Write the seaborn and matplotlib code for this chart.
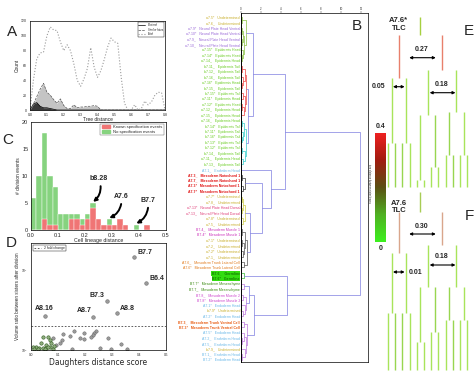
import numpy as np
import pandas as pd
import matplotlib
matplotlib.use("Agg")
import matplotlib.pyplot as plt
import seaborn as sns
from matplotlib.colors import LinearSegmentedColormap, Normalize
from matplotlib.cm import ScalarMappable
from matplotlib.patches import Patch

# ---------------- data ----------------
# Panel A: tree-distance distributions
dist = [0.00, 0.02, 0.04, 0.06, 0.08, 0.10, 0.12, 0.14, 0.16, 0.18, 0.20,
        0.22, 0.24, 0.26, 0.28, 0.30, 0.32, 0.34, 0.36, 0.38, 0.40,
        0.42, 0.44, 0.46, 0.48, 0.50, 0.52, 0.54, 0.56, 0.58, 0.60,
        0.62, 0.64, 0.66, 0.68, 0.70, 0.72, 0.74, 0.76, 0.78, 0.80]
total = [0, 40, 69, 77, 78, 100, 112, 108, 107, 92, 80,
         88, 80, 62, 40, 32, 42, 56, 84, 58, 44,
         53, 68, 85, 97, 92, 90, 45, 9, 0, 0,
         7, 0, 2, 12, 7, 11, 20, 24, 23, 0]
similar = [0, 8, 18, 28, 36, 24, 20, 14, 9, 15, 6,
           2, 2, 7, 3, 4, 4, 5, 5, 6, 5,
           0, 0, 0, 0, 0, 0, 0, 0, 0, 0,
           0, 0, 0, 0, 0, 0, 0, 0, 0, 0]
bilateral = [0, 8, 10, 5, 3, 3, 2, 1, 0, 0, 0,
             0, 0, 0, 0, 0, 0, 0, 0, 0, 0,
             0, 0, 0, 0, 0, 0, 0, 0, 0, 0,
             0, 0, 0, 0, 0, 0, 0, 0, 0, 0]

# Panel C: division events per cell-lineage-distance bin
c_left = [0.00, 0.02, 0.04, 0.06, 0.08, 0.10, 0.12, 0.14, 0.16, 0.18,
          0.20, 0.22, 0.24, 0.26, 0.28, 0.30, 0.32, 0.34, 0.36, 0.38,
          0.40, 0.42, 0.44, 0.46, 0.48]
c_total = [6, 10, 18, 10, 8, 3, 3, 3, 3, 2, 3, 5, 2, 1, 2, 1, 2, 1, 0, 1, 0, 1, 0, 0, 0]
c_known = [0, 0, 2, 1, 1, 0, 0, 2, 2, 1, 2, 4, 2, 1, 1, 1, 2, 1, 0, 0, 0, 1, 0, 0, 0]
c_arrow_names = ["b8.28", "A7.6", "B7.7"]
c_arrow_bins = [11, 14, 19]

# Panel D: daughters distance score vs volume ratio
d_gray_x = [0.161, 0.198, 0.241, 0.235, 0.229, 0.223, 0.143, 0.118, 0.115, 0.180,
            0.198, 0.285, 0.106, 0.335, 0.254, 0.152, 0.297, 0.355, 0.081, 0.093]
d_gray_y = [1.73, 1.65, 1.73, 1.62, 1.54, 1.47, 1.50, 1.57, 1.33, 1.40,
            1.37, 1.40, 1.23, 1.19, 1.07, 1.02, 1.03, 1.02, 1.40, 1.15]
d_green_x = [0.044, 0.062, 0.069, 0.038, 0.056, 0.075, 0.019, 0.031, 0.044, 0.056,
             0.069, 0.081, 0.007, 0.087, 0.025, 0.050, 0.012, 0.062]
d_green_y = [1.44, 1.47, 1.33, 1.21, 1.15, 1.21, 1.08, 1.05, 1.07, 1.05,
             1.08, 1.04, 1.10, 1.12, 1.02, 1.02, 1.02, 1.10]
d_named = ["B7.7", "B6.4", "B7.3", "A8.8", "A8.7", "A8.16"]
d_named_x = [0.383, 0.427, 0.281, 0.318, 0.231, 0.050]
d_named_y = [14.8, 6.9, 4.1, 2.9, 2.6, 2.7]

# Panel B: dendrogram leaves
leaf_ids = ["a7.5*", "a7.6_", "a7.9*", "a7.10*", "a7.9_", "a7.10_",
            "a7.15*", "a7.14*", "a7.14_", "b7.11_", "b7.12_", "b7.16_", "a7.16*", "b7.15_",
            "b7.15*", "a7.11*", "a7.12*", "a7.12_", "a7.15_", "a7.16_", "b7.14*", "b7.11*",
            "b7.16*", "b7.13*", "b7.12*", "b7.14_", "a7.11_", "b7.13_",
            "A7.1_", "A7.3_", "A7.7_", "A7.3*", "A7.7*",
            "a7.7*", "a7.8_", "a7.13*", "a7.13_", "a7.8*", "a7.5_",
            "B7.4_", "B7.4*", "a7.1*", "a7.2_", "a7.2*", "a7.1_", "A7.6_", "A7.6*",
            "B7.6_", "B7.6*", "B7.7*", "B7.7_", "B7.8_", "B7.8*", "A7.1*", "b7.9*",
            "A7.2*", "B7.3_", "B7.3*", "A7.5*", "A7.2_", "A7.5_", "b7.9_", "B7.1_", "B7.2*"]
U, NV, EH, ET = "Undetermined", "Neural Plate Head Ventral", "Epidermis Head", "Epidermis Tail"
EN, NC, ND = "Endoderm Head", "Mesoderm Notochord 1", "Neural Plate Head Dorsal"
M1, TL, GL = "Mesoderm Muscle 1", "Mesoderm Trunk Lateral Cell", "Germline"
MS, M2, TV = "Mesoderm Mesenchyme", "Mesoderm Muscle 2", "Mesoderm Trunk Ventral Cell"
leaf_fates = [U, U, NV, NV, NV, NV,
              EH, EH, EH, ET, ET, ET, EH, ET, ET, EH, EH, EH, EH, EH, ET, ET, ET, ET, ET, ET, EH, ET,
              EN, NC, NC, NC, NC,
              U, U, ND, ND, U, U,
              M1, M1, U, U, U, U, TL, TL,
              GL, GL, MS, MS, M2, M2, EN, U, EN, TV, TV, EN, EN, EN, U, EN, EN]
fate_color = {U: "#c8ae2a", NV: "#9a6ad8", EH: "#6acc22", ET: "#6acc22", EN: "#6ab8e8",
              NC: "#e01010", ND: "#e0407a", M1: "#cc33bb", TL: "#e07818", GL: "#137a00",
              MS: "#3a8a10", M2: "#cc44cc", TV: "#e85a10"}
bold_fates = [NC, TV, GL]

# merge heights of the dendrogram (height, left, right); names are coloured clusters
clusters = {
    "T1": ((0.45, (0.1, 0, 1), (0.3, (0.15, (0.05, 2, 3), (0.08, 4, 5)), (0.2, 6, (0.1, 7, 8)))), "#88c040"),
    "T2": ((0.5, (0.35, (0.1, 9, 10), (0.2, 11, (0.05, 12, 13))), (0.4, (0.15, 14, 15), (0.3, (0.1, 16, 17), 18))), "#ee4444"),
    "T3": ((0.45, (0.3, (0.1, 19, 20), (0.15, 21, (0.05, 22, 23))), (0.35, (0.1, 24, 25), (0.2, 26, 27))), "#33cccc"),
    "T4": ((0.35, (0.1, 29, 30), (0.15, 31, 32)), "#333333"),
    "T5": ((0.4, (0.2, (0.05, 33, 34), (0.1, 35, 36)), (0.15, 37, 38)), "#cccc44"),
    "T6": ((0.6, (0.4, (0.1, 39, 40), (0.25, (0.05, 41, 42), (0.15, 43, 44))), (0.3, 45, 46)), "#555555"),
    "T7": ((0.3, 47, 48), "#33bb33"),
    "T8a": ((0.3, 49, 50), "#bb77dd"),
    "T8b": ((0.5, (0.2, 51, 52), (0.35, 53, (0.15, 54, 55))), "#bb77dd"),
    "T8c": ((0.6, (0.25, 56, 57), (0.45, (0.3, 58, (0.1, 59, 60)), (0.35, 61, (0.1, 62, 63)))), "#bb77dd"),
}
dendro = (11.9,
          (4.4, (1.2, "T1", (0.7, "T2", "T3")), (3.0, 28, (2.1, "T4", (0.9, "T5", "T6")))),
          (4.6, "T7", (1.3, (0.8, "T8a", "T8b"), "T8c")))

# Panels E/F: lineage trees (division time, colour, daughters)
G1, G2 = "#a8e45a", "#98d650"
E_tree = (18, "#a6d040", [
    (61, "#e8806c", [(126, G1, [(170, G1, []), (170, G2, [])]),
                     (126, G1, [(170, G2, []), (170, G1, [])])]),
    (53, "#e8806c", [(98, G1, [(163, G1, [(170, G1, []), (170, G1, [])]),
                               (150, G2, [(170, G1, []), (170, G1, [])])]),
                     (95, G1, [(138, G2, [(170, G1, []), (170, G2, [])]),
                               (138, G1, [(170, G1, []), (170, G1, [])])])])])
F_tree = (20, "#a8cc55", [
    (61, "#d9a68c", [(121, G1, [(178, G1, []), (178, G2, [])]),
                     (121, G1, [(178, G2, []), (178, G1, [])])]),
    (53, "#d9a68c", [(95, G1, [(150, G1, [(178, G1, []), (178, G1, [])]),
                               (140, G2, [(178, G1, []), (178, G1, [])])]),
                     (95, G1, [(128, G2, [(178, G1, []), (178, G2, [])]),
                               (128, G1, [(178, G1, []), (178, G1, [])])])])])
E_dists = ["0.27", "0.05", "0.18"]
F_dists = ["0.30", "0.01", "0.18"]

# ---------------- figure ----------------
sns.set_theme(style="white")
plt.rcParams["font.family"] = ["Liberation Sans", "DejaVu Sans"]
plt.rcParams["axes.linewidth"] = 0.5

W, H = 474, 372
fig = plt.figure(figsize=(W / 100, H / 100), dpi=100)


def box(x0, y0, x1, y1):
    return [x0 / W, 1 - y1 / H, (x1 - x0) / W, (y1 - y0) / H]


def frame(ax):
    for s in ax.spines.values():
        s.set_visible(True)
        s.set_color("black")
        s.set_linewidth(0.5)


# ---- A ----
axA = fig.add_axes(box(30, 21, 165, 110))
axA.fill_between(dist, similar, color="#c4c4c4", lw=0)
axA.fill_between(dist, bilateral, color="#3a3a3a", lw=0)
sns.lineplot(x=dist, y=bilateral, ax=axA, color="black", lw=0.5, label="Bilateral")
sns.lineplot(x=dist, y=similar, ax=axA, color="#555555", lw=0.5, ls="--", label="Similar fates")
sns.lineplot(x=dist, y=total, ax=axA, color="#9a9a9a", lw=0.8, ls=":", label="Total")
axA.set_xlim(0, 0.8)
axA.set_ylim(0, 120)
axA.set_xticks([0.0, 0.1, 0.2, 0.3, 0.4, 0.5, 0.6, 0.7, 0.8])
axA.set_yticks([0, 20, 40, 60, 80, 100, 120])
axA.tick_params(labelsize=2.5, length=1.2, width=0.3, pad=0.8)
axA.set_xlabel("Tree distance", fontsize=3.5, labelpad=0.5)
axA.set_ylabel("Count", fontsize=3.5, labelpad=1)
axA.legend(loc="upper right", fontsize=2, handlelength=2.5, borderpad=0.3, labelspacing=0.2,
           fancybox=False, edgecolor="black", framealpha=1).get_frame().set_linewidth(0.3)
frame(axA)

# ---- C ----
GREEN, RED = "#86d37f", "#f07575"
axC = fig.add_axes(box(31, 122, 166, 230))
c_edges = c_left + [0.50]
c_mid = [v + 0.01 for v in c_left]
sns.histplot(x=c_mid, weights=c_total, bins=c_edges, color=GREEN, alpha=1,
             edgecolor="white", linewidth=0.3, ax=axC)
sns.histplot(x=c_mid, weights=c_known, bins=c_edges, color=RED, alpha=1,
             edgecolor="white", linewidth=0.3, ax=axC)
axC.set_xlim(0, 0.5)
axC.set_ylim(0, 20)
axC.set_xticks([0.0, 0.1, 0.2, 0.3, 0.4, 0.5])
axC.set_yticks([0, 5, 10, 15, 20])
axC.tick_params(labelsize=4, length=1.2, width=0.3, pad=0.8)
axC.set_xlabel("Cell lineage distance", fontsize=3.8, labelpad=0.5)
axC.set_ylabel("# division events", fontsize=3.5, labelpad=1)
axC.legend(handles=[Patch(color=RED, label="Known specification events"),
                    Patch(color=GREEN, label="No specification events")],
           loc="upper right", fontsize=3, handlelength=2, borderpad=0.3, labelspacing=0.2,
           fancybox=False, edgecolor="#555555", framealpha=1).get_frame().set_linewidth(0.3)
text_off = [(0.022, 3.6), (0.045, 3.3), (0.043, 3.6)]
for name, b, (dx, dy) in zip(c_arrow_names, c_arrow_bins, text_off):
    tip = (c_mid[b], c_total[b] + 0.2)
    axC.annotate(name, xy=tip, xytext=(tip[0] + dx, tip[1] + dy), fontsize=5,
                 fontweight="bold", ha="center", va="bottom",
                 arrowprops=dict(arrowstyle="-|>", color="black", lw=1.4, mutation_scale=5,
                                 shrinkA=0.3, shrinkB=0, connectionstyle="arc3,rad=-0.35"))
frame(axC)

# ---- D ----
axD = fig.add_axes(box(31, 243, 166, 350))
axD.axhline(2, color="#444444", lw=0.6, ls=(0, (2, 2)), label="2 fold change")
sns.scatterplot(x=d_gray_x, y=d_gray_y, ax=axD, color="#9a9a9a", edgecolor="#5a5a5a",
                s=6, linewidth=0.3)
sns.scatterplot(x=d_green_x, y=d_green_y, ax=axD, color="#8fae7e", edgecolor="#2f5a1f",
                s=6, linewidth=0.4)
sns.scatterplot(x=d_named_x, y=d_named_y, ax=axD, color="#9a9a9a", edgecolor="#5a5a5a",
                s=7, linewidth=0.3)
offs = [(2, 0.5, "left"), (2, 0.5, "left"), (-1.5, 1.5, "right"), (2, 0.5, "left"),
        (-1.5, 2, "right"), (0, 2.5, "center")]
for name, x, y, (ox, oy, ha) in zip(d_named, d_named_x, d_named_y, offs):
    axD.annotate(name, (x, y), xytext=(ox, oy), textcoords="offset points", ha=ha,
                 va="bottom", fontsize=5, fontweight="bold")
axD.set_yscale("log")
axD.set_xlim(0, 0.5)
axD.set_ylim(1, 22)
axD.set_xticks([0.0, 0.1, 0.2, 0.3, 0.4, 0.5])
axD.tick_params(labelsize=2.3, length=1.2, width=0.3, pad=0.8)
axD.tick_params(which="minor", length=0.6, width=0.2)
axD.set_xlabel("Daughters distance score", fontsize=5.5, labelpad=1, family="DejaVu Sans")
axD.set_ylabel("Volume ratio between sisters after division", fontsize=3.3, labelpad=1)
axD.legend(loc="upper left", fontsize=2.5, handlelength=2, borderpad=0.3,
           fancybox=False, edgecolor="black", framealpha=1).get_frame().set_linewidth(0.3)
frame(axD)

# ---- B ----
axB = fig.add_axes(box(241, 13, 368, 362))
BLUE = "#7f7fe0"


def draw(node, color):
    if isinstance(node, str):
        sub, col = clusters[node]
        return draw(sub, col)
    if isinstance(node, int):
        return 0.0, float(node)
    h, left, right = node
    hl, yl = draw(left, color)
    hr, yr = draw(right, color)
    axB.plot([hl, h, h, hr], [yl, yl, yr, yr], color=color, lw=0.5)
    return h, (yl + yr) / 2


draw(dendro, BLUE)
axB.set_xlim(0, 12.7)
axB.set_ylim(63.4, -0.8)
axB.xaxis.tick_top()
axB.set_xticks([0, 2, 4, 6, 8, 10, 12])
axB.tick_params(axis="x", labelsize=2, length=1.2, width=0.3, pad=0.5, top=True, bottom=False)
axB.set_yticks(range(len(leaf_ids)))
axB.set_yticklabels([f"{i}   {f}" for i, f in zip(leaf_ids, leaf_fates)], fontsize=2.5)
axB.tick_params(axis="y", length=0, pad=0.8)
for lab, f in zip(axB.get_yticklabels(), leaf_fates):
    lab.set_color(fate_color[f])
    if f in bold_fates:
        lab.set_fontweight("bold")
    if f == GL:
        lab.set_bbox(dict(facecolor="#33dd11", edgecolor="none", pad=0.3))
frame(axB)
axB.spines["left"].set_linewidth(0.7)

# colour bar
cax = fig.add_axes(box(375, 133, 386, 242))
cmap = LinearSegmentedColormap.from_list("dist", ["#3cf01e", "#4fb022", "#5a5012", "#a01c10", "#ee2020"])
cb = fig.colorbar(ScalarMappable(norm=Normalize(0, 0.4), cmap=cmap), cax=cax)
cb.outline.set_visible(False)
cax.set_yticks([])
fig.text(380.5 / W, 1 - 127 / H, "0.4", fontsize=5, fontweight="bold", ha="center", va="center")
fig.text(380.5 / W, 1 - 248 / H, "0", fontsize=5, fontweight="bold", ha="center", va="center")
fig.text(369.5 / W, 1 - 183 / H, "tree distance between sister leaves", fontsize=1.8,
         rotation=270, ha="center", va="center")


# ---- E / F ----
def lineage(ax, node, t0, slot, pos, path):
    t_end, col, kids = node
    if not kids:
        x = slot[0]
        slot[0] += 1
    else:
        xs = [lineage(ax, k, t_end, slot, pos, path + "LR"[i]) for i, k in enumerate(kids)]
        x = sum(xs) / len(xs)
    ax.plot([x, x], [t0, t_end], color=col, lw=1.0, solid_capstyle="butt")
    pos[path] = (x, t0)
    return x


def arrow(ax, xa, xb, t, sa, sb):
    ax.annotate("", xy=(xb, t), xytext=(xa, t),
                arrowprops=dict(arrowstyle="<|-|>", color="black", lw=0.8, mutation_scale=4,
                                shrinkA=sa, shrinkB=sb))


def tree_panel(rect, tree, t_top, t_bot, title, dists, small_left, t_off):
    ax = fig.add_axes(box(*rect))
    pos = {}
    lineage(ax, tree, 0, [0], pos, "")
    ax.set_xlim(-1.11, 11.94)
    ax.set_ylim(t_bot, t_top)
    ax.axis("off")
    xL, xR = pos["L"][0], pos["R"][0]
    xLL, xLR = pos["LL"][0], pos["LR"][0]
    xRL, xRR = pos["RL"][0], pos["RR"][0]
    ax.text(xL, t_off[0], title, fontsize=5.5, fontweight="bold", ha="center", va="center",
            linespacing=1.1)
    arrow(ax, xL, xR, t_off[1], 7.5, 4.5)
    ax.text((xL + xR) / 2 + 0.2, t_off[1] - 8, dists[0], fontsize=5, fontweight="bold",
            ha="center", va="center")
    arrow(ax, xLL, xLR, t_off[2], 1, 1)
    if small_left:
        ax.text(xLL - 0.8, t_off[2], dists[1], fontsize=5, fontweight="bold", ha="right", va="center")
    else:
        ax.text(xLR + 0.4, t_off[2], dists[1], fontsize=5, fontweight="bold", ha="left", va="center")
    arrow(ax, xRL, xRR, t_off[3], 1.5, 0.7)
    ax.text((xRL + xRR) / 2, t_off[3] - 8, dists[2], fontsize=5, fontweight="bold",
            ha="center", va="center")
    return ax


tree_panel((380, 10, 474, 190), E_tree, -6.7, 173.3, "A7.6*\nTLC", E_dists, True, (8, 41, 70, 76))
tree_panel((380, 190, 474, 372), F_tree, -2, 180, "A7.6\nTLC", F_dists, False, (15, 42, 80, 73))

# panel letters
for letter, x, y in [("A", 12, 32), ("C", 8, 140), ("D", 11, 243), ("B", 357, 26),
                     ("E", 469, 31), ("F", 469, 216)]:
    fig.text(x / W, 1 - y / H, letter, fontsize=11, ha="center", va="center")

fig.savefig("out.png", dpi=100)
